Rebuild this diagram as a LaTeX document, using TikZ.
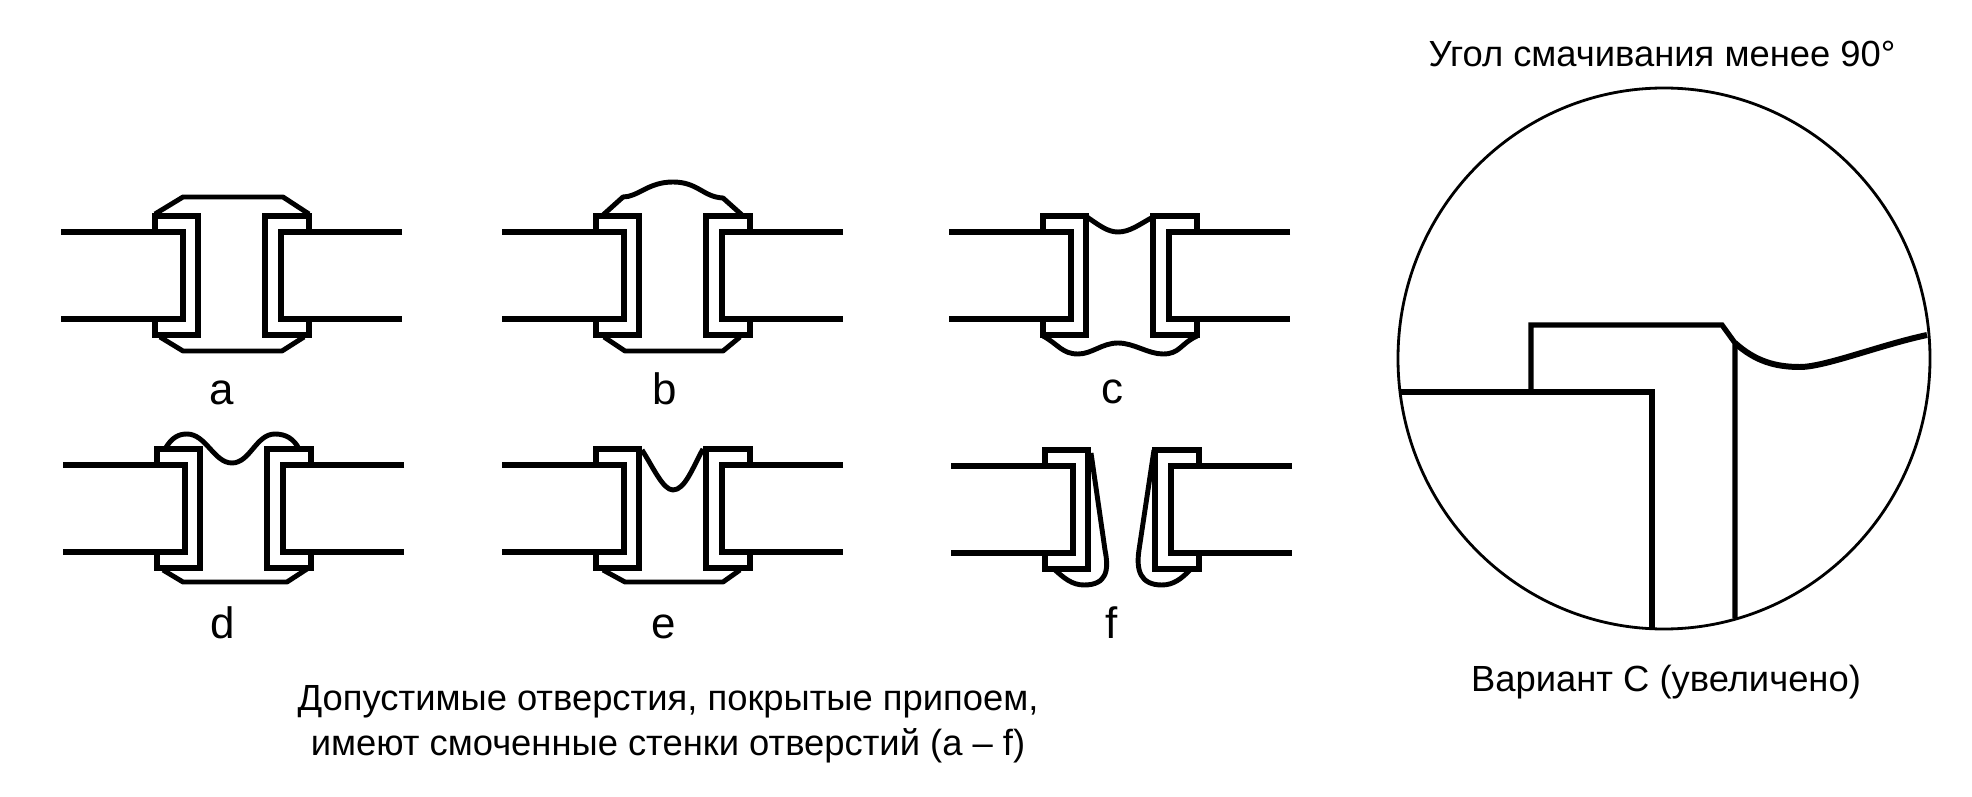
\documentclass[tikz,border=0pt]{standalone}
\usepackage{fontspec}
\setmainfont{Liberation Sans}
\usepackage{tikz}

\tikzset{
  holeline/.style={black, line width=3pt, line join=miter},
  solderline/.style={black, line width=2.8pt, line join=round},
  detailline/.style={black, line width=3pt},
  rimline/.style={black, line width=1.6pt},
  caption/.style={font=\fontsize{20.7}{25.6}\selectfont, align=center, inner sep=0pt},
  letter/.style={font=\fontsize{25}{30}\selectfont, anchor=base, inner sep=0pt}
}

% boards and plated barrel, same for all six holes
\newcommand{\holebody}{
\draw[holeline] (-171,-44) -- (-49,-44) -- (-49,43) -- (-171,43);
\draw[holeline] (170,-44) -- (49,-44) -- (49,43) -- (170,43);
\draw[holeline] (-77,-44) -- (-77,-60) -- (-34,-60) -- (-34,59) -- (-77,59) -- (-77,43);
\draw[holeline] (77,-44) -- (77,-60) -- (33,-60) -- (33,59) -- (77,59) -- (77,43);
}

\begin{document}
\begin{tikzpicture}[x=0.02cm, y=-0.02cm]
\useasboundingbox (0,0) rectangle (1972,797);

% hole a
\begin{scope}[shift={(232,276)}]
\holebody
\draw[solderline] (-77,-62) -- (-49,-79) -- (51,-79) -- (77,-62);
\draw[solderline] (-72,61) -- (-49,75) -- (50,75) -- (72,61);
\end{scope}

% hole b
\begin{scope}[shift={(673,276)}]
\holebody
\draw[solderline] (-70,-61) -- (-50,-79) .. controls (-35,-79) and (-25,-94) .. (0,-94) .. controls (25,-94) and (30,-79) .. (50,-78) -- (69,-61);
\draw[solderline] (-69,61) -- (-48,75) -- (50,75) -- (67,61);
\end{scope}

% hole c
\begin{scope}[shift={(1120,276)}]
\holebody
\draw[solderline] (-33,-59) .. controls (-20,-50) and (-12,-44) .. (-2,-44) .. controls (10,-44) and (20,-52) .. (33,-59);
\draw[solderline] (-77,60) .. controls (-62,68) and (-58,78) .. (-42,78) .. controls (-28,78) and (-18,67) .. (-2,67) .. controls (14,67) and (28,78) .. (43,78) .. controls (60,78) and (60,68) .. (77,60);
\end{scope}

% hole d
\begin{scope}[shift={(234,509)}]
\holebody
\draw[solderline] (-69,-60) .. controls (-62,-72) and (-55,-75) .. (-47,-75) .. controls (-28,-75) and (-20,-46) .. (-2,-46) .. controls (16,-46) and (22,-75) .. (41,-75) .. controls (52,-75) and (60,-70) .. (65,-60);
\draw[solderline] (-71,61) -- (-51,73) -- (53,73) -- (73,60);
\end{scope}

% hole e
\begin{scope}[shift={(673,509)}]
\holebody
\draw[solderline] (-31,-59) .. controls (-20,-42) and (-10,-19) .. (0,-19) .. controls (12,-19) and (20,-42) .. (30,-60);
\draw[solderline] (-70,61) -- (-48,73) -- (50,73) -- (67,61);
\end{scope}

% hole f
\begin{scope}[shift={(1122,510)}]
\holebody
\draw[solderline] (-31,-57) -- (-17,40) .. controls (-13,60) and (-15,75) .. (-38,75) .. controls (-50,75) and (-58,68) .. (-67,60);
\draw[solderline] (32,-60) -- (17,40) .. controls (14,60) and (18,75) .. (40,75) .. controls (52,75) and (60,68) .. (68,60);
\end{scope}

% letters
\node[letter] (labela) at (222,404) {a};
\node[letter] (labelb) at (665,404) {b};
\node[letter] (labelc) at (1112,403) {c};
\node[letter] (labeld) at (223,638) {d};
\node[letter] (labele) at (664,638) {e};
\node[letter] (labelf) at (1112,638) {f};

% enlarged detail
\draw[rimline] (1664,358.5) ellipse (266 and 270.5);
\draw[detailline] (1401,392) -- (1652,392) -- (1652,628);
\draw[detailline] (1531,392) -- (1531,325) -- (1722,325) -- (1735,343) -- (1735,618);
\draw[detailline, line width=3.4pt] (1735,343) .. controls (1755,361) and (1775,367) .. (1800,367) .. controls (1825,367) and (1880,345) .. (1927,335);

% captions
\node[caption] (title) at (1662,54) {Угол смачивания менее 90°};
\node[caption] (variant) at (1666,682) {Вариант С (увеличено)};
\node[caption] (note) at (668,724) {Допустимые отверстия, покрытые припоем,\\имеют смоченные стенки отверстий (a – f)};
\end{tikzpicture}
\end{document}
